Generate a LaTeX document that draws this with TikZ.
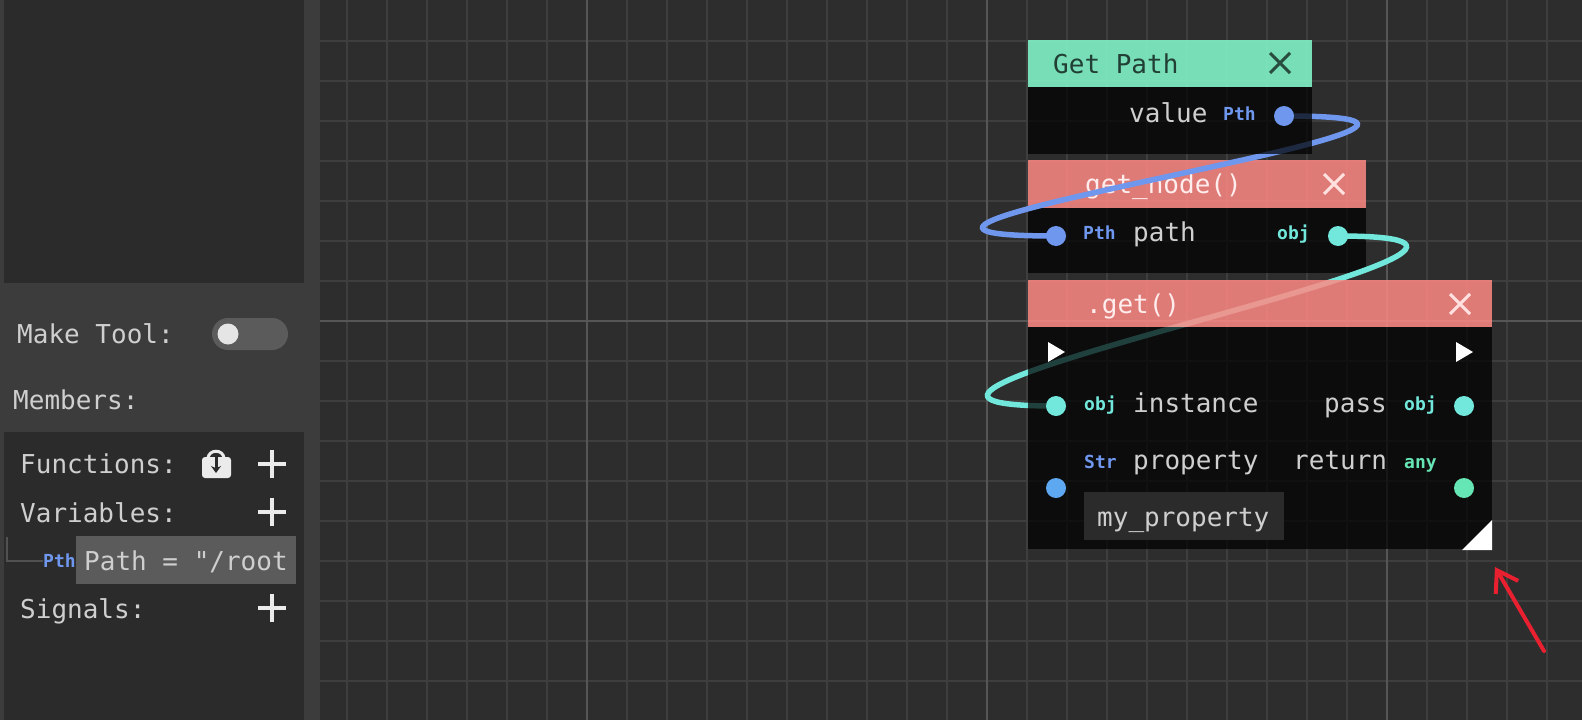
\documentclass[tikz,border=0pt]{standalone}
\usepackage{fontspec}
\setmonofont{DejaVu Sans Mono}
\usetikzlibrary{arrows.meta}
\definecolor{canvasbg}{HTML}{2D2D2D}
\definecolor{gridminor}{HTML}{3E3E3E}
\definecolor{gridmajor}{HTML}{565656}
\definecolor{panelbg}{HTML}{3C3C3C}
\definecolor{panelbox}{HTML}{2B2B2B}
\definecolor{lblgray}{HTML}{CFCFCF}
\definecolor{pthblue}{HTML}{6F97EE}
\definecolor{objcyan}{HTML}{72E8DC}
\definecolor{anygreen}{HTML}{66E5B5}
\definecolor{hdrgreen}{HTML}{85FDD0}
\definecolor{hdrred}{HTML}{FF8985}
\definecolor{arrowred}{HTML}{E8202F}
\pgfdeclarelayer{back}
\pgfdeclarelayer{wires}
\pgfsetlayers{back,wires,main}
\tikzset{
  lbl/.style={anchor=base west,inner sep=0pt,text=lblgray,font=\fontsize{26}{30}\selectfont\ttfamily},
  tag/.style={anchor=base west,inner sep=0pt,font=\fontsize{18}{20}\selectfont\ttfamily\bfseries},
  hdr/.style={anchor=north west,inner sep=0pt,fill opacity=.85,text opacity=1},
  body/.style={anchor=north west,inner sep=0pt,fill=black,fill opacity=.72},
  port/.style={circle,inner sep=0pt,minimum size=20pt},
  wire/.style={line width=5.5pt,line cap=round},
  closex/.style={line width=3pt},
  plusmark/.style={draw=white!92!black,line width=3.2pt},
  playtip/.style={fill=white},
}
\begin{document}
\begin{tikzpicture}[x=1pt,y=-1pt]
  \useasboundingbox (0,0) rectangle (1582,720);
  \begin{pgfonlayer}{back}
    \fill[canvasbg] (0,0) rectangle (1582,720);
    \foreach \gx in {347,387,...,1567}
      \draw[gridminor,line width=1.6pt] (\gx,0) -- (\gx,720);
    \foreach \gy in {41,81,...,721}
      \draw[gridminor,line width=1.6pt] (320,\gy) -- (1582,\gy);
    \foreach \gx in {587,987,1387}
      \draw[gridmajor,line width=1.4pt] (\gx,0) -- (\gx,720);
    \draw[gridmajor,line width=1.4pt] (320,321) -- (1582,321);
    % side panel
    \fill[panelbg] (0,0) rectangle (320,720);
    \fill[panelbox] (4,0) rectangle (304,283);
    \fill[panelbox] (4,432) rectangle (304,720);
    % node under the wires
    \node[body,minimum width=338pt,minimum height=65pt] (nodebody) at (1028,208) {};
    \node[hdr,fill=hdrred,minimum width=338pt,minimum height=48pt] (nodehdr) at (1028,160) {};
    \node[lbl,text=white!85!hdrred] (nodetitle) at (1085,193) {get\_node()};
    \draw[closex,white!75!hdrred] (1324,174) -- (1344,194) (1344,174) -- (1324,194);
    \node[lbl] (pathlbl) at (1133,241) {path};
    \node[tag,text=pthblue] (pathtag) at (1083,239) {Pth};
    \node[tag,text=objcyan] (objtag) at (1277,239) {obj};
  \end{pgfonlayer}

  % Get Path
  \node[body,minimum width=284pt,minimum height=67pt] (pathbody) at (1028,87) {};
  \node[hdr,fill=hdrgreen,minimum width=284pt,minimum height=47pt] (pathhdr) at (1028,40) {};
  \node[lbl,text=black!75!hdrgreen] (pathtitle) at (1053,73) {Get Path};
  \draw[closex,black!70!hdrgreen] (1270,53) -- (1290,73) (1290,53) -- (1270,73);
  \node[lbl] (valuelbl) at (1129,122) {value};
  \node[tag,text=pthblue] (valuetag) at (1223,120) {Pth};

  % .get()
  \node[body,minimum width=464pt,minimum height=222pt] (getbody) at (1028,327) {};
  \node[hdr,fill=hdrred,minimum width=464pt,minimum height=47pt] (gethdr) at (1028,280) {};
  \node[lbl,text=white!85!hdrred] (gettitle) at (1086,313) {.get()};
  \draw[closex,white!75!hdrred] (1450,294) -- (1470,314) (1470,294) -- (1450,314);
  \fill[playtip] (1048,342) -- (1065,352) -- (1048,362) -- cycle;
  \fill[playtip] (1456,342) -- (1473,352) -- (1456,362) -- cycle;
  \node[lbl] (instlbl) at (1133,412) {instance};
  \node[lbl] (passlbl) at (1324,412) {pass};
  \node[lbl] (proplbl) at (1133,469) {property};
  \node[lbl] (retlbl) at (1293,469) {return};
  \node[tag,text=objcyan] (insttag) at (1084,410) {obj};
  \node[tag,text=objcyan] (passtag) at (1404,410) {obj};
  \node[tag,text=pthblue] (proptag) at (1084,468) {Str};
  \node[tag,text=anygreen] (rettag) at (1404,468) {any};
  \fill[panelbox] (1084,492) rectangle (1284,540);
  \node[lbl] (propval) at (1097,526) {my\_property};
  \fill[white] (1462,550) -- (1492,550) -- (1492,520) -- cycle;

  % ports
  \node[port,fill=pthblue] (valueout) at (1284,116) {};
  \node[port,fill=pthblue] (pathin) at (1056,236) {};
  \node[port,fill=objcyan] (objout) at (1338,236) {};
  \node[port,fill=objcyan] (instin) at (1056,406) {};
  \node[port,fill=objcyan] (passout) at (1464,406) {};
  \node[port,fill=pthblue!85!cyan] (propin) at (1056,488) {};
  \node[port,fill=anygreen] (retout) at (1464,488) {};

  \begin{pgfonlayer}{wires}
    \draw[wire,pthblue] (valueout.center) .. controls +(325,0) and +(-325,0) .. (pathin.center);
    \draw[wire,objcyan] (objout.center) .. controls +(320,0) and +(-320,0) .. (instin.center);
  \end{pgfonlayer}

  % arrow to the corner
  \coordinate (arrowfrom) at (1544,651);
  \coordinate (arrowto) at (1495,567);
  \draw[arrowred,line width=4pt,line cap=round,-{Straight Barb[length=20pt,width=26pt,line width=4pt]}] (arrowfrom) -- (arrowto);

  % side panel content
  \node[lbl] (toollbl) at (17,343) {Make Tool:};
  \node[draw=none,fill=white!16!panelbg,rounded corners=16pt,minimum width=76pt,minimum height=32pt,inner sep=0pt] (toggle) at (250,334) {};
  \node[circle,fill=white!90!black,inner sep=0pt,minimum size=21pt] (knob) at (228,334) {};
  \node[lbl] (memberlbl) at (13,409) {Members:};
  \node[lbl] (funclbl) at (20,473) {Functions:};
  \node[lbl] (varlbl) at (20,522) {Variables:};
  \node[lbl] (siglbl) at (20,618) {Signals:};
  \foreach \py in {464,512,608}
    \draw[plusmark] (258,\py) -- (286,\py) (272,\py-14) -- (272,\py+14);
  \draw[white!92!black,line width=3pt] (208,458) .. controls (209,449) and (223,449) .. (224,458);
  \fill[white!92!black,rounded corners=3pt] (202,457) rectangle (231,478);
  \draw[panelbox,line width=3pt,-{Stealth[length=7pt,width=10pt]}] (216,457) -- (216,473);
  \fill[white!16!panelbg] (76,536) rectangle (296,584);
  \draw[white!18!panelbox,line width=1.2pt] (7,537) -- (7,561) -- (43,561);
  \node[tag,text=pthblue] (vartag) at (43,567) {Pth};
  \node[lbl] (varval) at (84,570) {Path = "/root};
\end{tikzpicture}
\end{document}
